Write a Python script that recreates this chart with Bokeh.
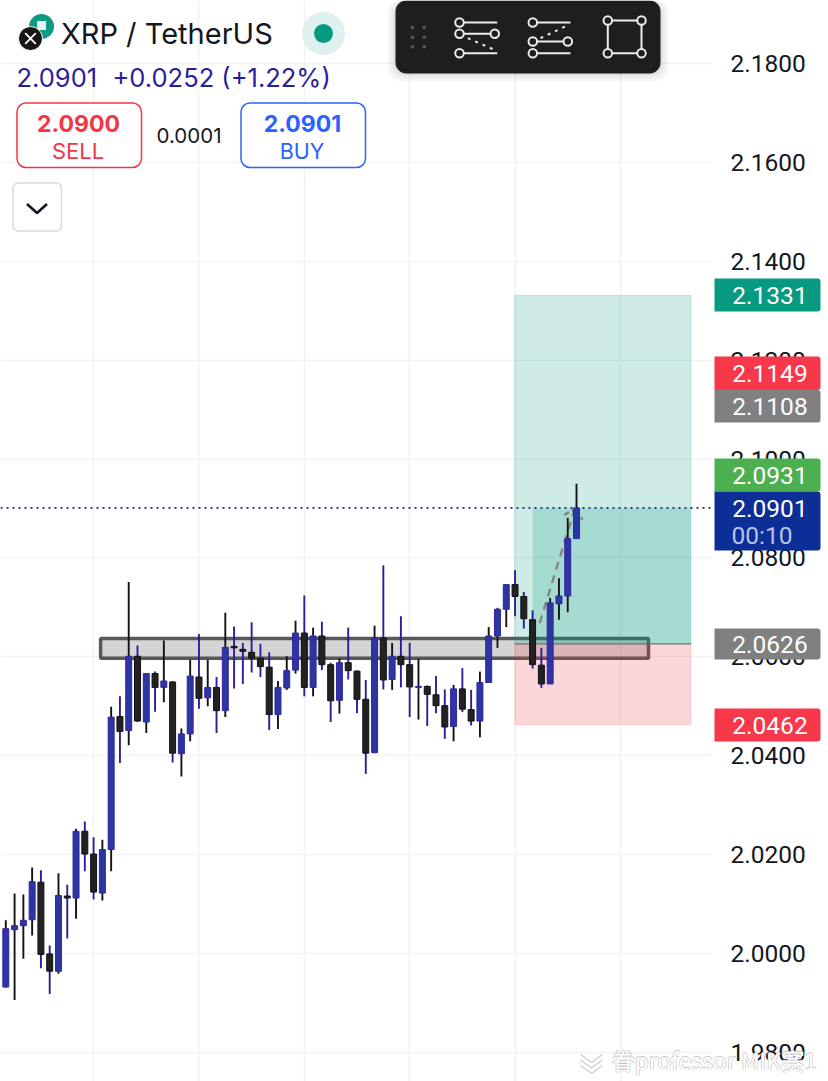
from bokeh.embed import file_html
from bokeh.resources import INLINE
from bokeh.plotting import figure
from bokeh.models import BoxAnnotation, Label, FixedTicker, NumeralTickFormatter, Range1d, Grid

# ---------- data ----------
open_ = [1.9932,2.0048,2.0056,2.0068,2.0144,1.9999,1.9964,2.0116,2.0112,2.0247,2.0201,2.0122,2.0210,2.0479,2.0451,2.0601,2.0468,2.0566,2.0538,2.0549,2.0404,2.0444,2.0559,2.0517,2.0538,2.0491,2.0621,2.0615,2.0609,2.0597,2.0579,2.0483,2.0537,2.0573,2.0648,2.0538,2.0642,2.0584,2.0512,2.0588,2.0571,2.0514,2.0406,2.0638,2.0554,2.0601,2.0584,2.0538,2.0540,2.0523,2.0501,2.0459,2.0535,2.0493,2.0470,2.0548,2.0642,2.0696,2.0746,2.0722,2.0675,2.0583,2.0545,2.0707,2.0723,2.0839]
high = [2.0067,2.0121,2.0119,2.0174,2.0168,2.0016,2.0162,2.0139,2.0252,2.0267,2.0235,2.0230,2.0499,2.0520,2.0751,2.0623,2.0567,2.0570,2.0633,2.0551,2.0455,2.0594,2.0646,2.0594,2.0559,2.0689,2.0661,2.0628,2.0670,2.0626,2.0609,2.0551,2.0601,2.0673,2.0724,2.0659,2.0671,2.0588,2.0597,2.0659,2.0572,2.0553,2.0663,2.0785,2.0628,2.0682,2.0628,2.0596,2.0542,2.0561,2.0534,2.0543,2.0577,2.0533,2.0570,2.0660,2.0699,2.0746,2.0775,2.0731,2.0694,2.0618,2.0719,2.0759,2.0881,2.0950]
low = [1.9931,1.9906,1.9989,2.0036,1.9970,1.9918,1.9959,2.0030,2.0070,2.0166,2.0109,2.0107,2.0166,2.0385,2.0421,2.0468,2.0446,2.0489,2.0508,2.0386,2.0358,2.0429,2.0495,2.0500,2.0446,2.0478,2.0536,2.0545,2.0568,2.0559,2.0452,2.0454,2.0533,2.0566,2.0520,2.0520,2.0573,2.0468,2.0485,2.0554,2.0486,2.0363,2.0405,2.0534,2.0533,2.0538,2.0478,2.0473,2.0460,2.0486,2.0434,2.0429,2.0488,2.0461,2.0437,2.0548,2.0618,2.0660,2.0682,2.0657,2.0576,2.0537,2.0545,2.0675,2.0690,2.0839]
close = [2.0050,2.0056,2.0067,2.0145,1.9998,1.9964,2.0117,2.0112,2.0247,2.0201,2.0124,2.0210,2.0478,2.0449,2.0601,2.0470,2.0566,2.0538,2.0551,2.0405,2.0444,2.0561,2.0516,2.0538,2.0491,2.0619,2.0618,2.0611,2.0597,2.0580,2.0483,2.0538,2.0572,2.0648,2.0538,2.0642,2.0584,2.0511,2.0588,2.0572,2.0514,2.0405,2.0638,2.0553,2.0601,2.0584,2.0539,2.0540,2.0524,2.0501,2.0458,2.0535,2.0494,2.0470,2.0548,2.0642,2.0696,2.0746,2.0722,2.0677,2.0584,2.0545,2.0709,2.0723,2.0839,2.0901]

price_ticks = [1.98,2.00,2.02,2.04,2.06,2.08,2.10,2.12,2.14,2.16,2.18]
bar_ticks = [10,22,34,46,58,70]

last_price = 2.0901
take_profit = 2.1331
entry = 2.0626
stop_loss = 2.0462
zone_top, zone_bottom = 2.0637, 2.0597
zone_start, zone_end = 10.8, 73.2
position_start, position_end, trade_start = 57.95, 78.05, 60.0
arrow_bars = [60.8, 64.8, 63.6, 64.8, 65.7]
arrow_prices = [2.0668, 2.0899, 2.0887, 2.0899, 2.0877]

# ---------- layout (reference pixels) ----------
W, H = 828, 1081
PLOT_RIGHT = 712
PX_PER_BAR = 8.78
X0 = 5.3
PX_PER_UNIT = 4944.0
Y0_PRICE = 2.19274

def X(px): return (px - X0) / PX_PER_BAR
def Y(py): return Y0_PRICE - py / PX_PER_UNIT

FONT = "Inter"
NUM_FONT = "Roboto"
BLUE_BODY, BLUE_EDGE, BLUE_WICK = "#2c36a0", "#3524a8", "#2a1e9c"
BLACK_BODY, BLACK_EDGE, BLACK_WICK = "#222222", "#111111", "#131313"
TEAL, RED, GRID = "#089981", "#f23645", "#f1f2f4"

p = figure(width=W, height=H, output_backend="svg", toolbar_location=None,
           x_range=Range1d(X(0), X(W)), y_range=Range1d(Y(H), Y(0)),
           x_axis_location=None, y_axis_location="right",
           min_border_left=0, min_border_top=0, min_border_bottom=0, min_border_right=0,
           margin=(0, 0, 0, 0), background_fill_color="white", border_fill_color="white")
p.outline_line_color = None

ax = p.yaxis[0]
ax.ticker = FixedTicker(ticks=price_ticks)
ax.formatter = NumeralTickFormatter(format="0.0000")
ax.axis_line_color = None
ax.major_tick_line_color = None
ax.minor_tick_line_color = None
ax.major_label_standoff = 724 - W      # labels sit inside the frame, as on the chart's price scale
ax.major_label_text_font = NUM_FONT
ax.major_label_text_font_size = "24.5px"
ax.major_label_text_color = "#131722"

p.ygrid.grid_line_color = GRID
p.ygrid.grid_line_width = 1.5
p.xgrid.grid_line_color = None
p.add_layout(Grid(dimension=0, ticker=FixedTicker(ticks=bar_ticks), grid_line_color=GRID, grid_line_width=1.5))

# price-scale strip keeps the grid out
p.quad(left=[X(PLOT_RIGHT)], right=[X(W)], top=[Y(0)], bottom=[Y(H)], fill_color="white", line_color=None)

# zone and trade boxes (under the candles)
p.quad(left=[zone_start], right=[zone_end], top=[zone_top], bottom=[zone_bottom],
       fill_color="#808080", fill_alpha=0.33, line_color="#585858", line_width=3.5)
p.quad(left=[position_start], right=[position_end], top=[take_profit], bottom=[entry],
       fill_color=TEAL, fill_alpha=0.2, line_color=TEAL, line_alpha=0.15, line_width=1)
p.quad(left=[position_start], right=[position_end], top=[entry], bottom=[stop_loss],
       fill_color=RED, fill_alpha=0.2, line_color=RED, line_alpha=0.12, line_width=1)
p.quad(left=[trade_start], right=[position_end], top=[last_price], bottom=[entry],
       fill_color=TEAL, fill_alpha=0.2, line_color=None)
p.line([position_start, position_end], [entry, entry], line_color="#666666", line_width=1.2, line_alpha=0.8)
p.line(arrow_bars, arrow_prices, line_color="#858585", line_width=2.4, line_dash="8 6")

# last price line
p.line([X(0), X(PLOT_RIGHT)], [last_price, last_price], line_color=BLUE_WICK, line_width=1.7, line_dash="2 4")

# candles
xs = list(range(len(close)))
up = [c >= o for o, c in zip(open_, close)]
p.segment(x0=xs, x1=xs, y0=high, y1=low, line_width=1.9,
          line_color=[BLACK_WICK if u else BLUE_WICK for u in up])
p.vbar(x=xs, width=0.68, top=[max(o, c) for o, c in zip(open_, close)],
       bottom=[min(o, c) for o, c in zip(open_, close)],
       fill_color=[BLUE_BODY if u else BLACK_BODY for u in up],
       line_color=[BLUE_EDGE if u else BLACK_EDGE for u in up], line_width=1)

# ---------- helpers for the page furniture ----------
def box(x0, y0, x1, y1, fill, line=None, lw=0, radius=0, alpha=1.0):
    p.add_layout(BoxAnnotation(left=X(x0), right=X(x1), top=Y(y0), bottom=Y(y1),
                               fill_color=fill, fill_alpha=alpha, line_color=line, line_alpha=1.0, line_width=lw,
                               border_radius=radius, level="annotation"))

def text(x, y, s, size, color, align="center", style="normal", font=FONT):
    p.add_layout(Label(x=X(x), y=Y(y), text=s, text_font=font, text_font_size=f"{size}px", text_color=color,
                       text_align=align, text_baseline="middle", text_font_style=style, level="overlay"))

# price tags on the right
tags = [(278, 311, TEAL, "2.1331"), (356, 389.5, "#f7374a", "2.1149"), (389.5, 422, "#808080", "2.1108"),
        (458, 491, "#4caf50", "2.0931"), (628, 659, "#808080", "2.0626"), (708, 741, "#f7374a", "2.0462")]
for y0, y1, c, s in tags:
    box(714, y0, 820, y1, c, radius=(0, 3, 3, 0))
    text(769.5, (y0 + y1) / 2 + 0.5, s, 24.5, "white", font=NUM_FONT)
box(714, 491, 820, 550, "#0c2e96", radius=(0, 3, 3, 0))
text(769.5, 508, "2.0901", 24.5, "white", font=NUM_FONT)
text(731, 535, "00:10", 24.5, "#b9c3e3", align="left", font=NUM_FONT)

# header
p.scatter([X(41)], [Y(26)], size=25, marker="circle", fill_color="#0d9a85", line_color=None)
p.scatter([X(41)], [Y(25)], size=9, marker="square", fill_color="#e6f5f2", line_color=None)
p.scatter([X(30)], [Y(38)], size=24, marker="circle", fill_color="#161616", line_color="white", line_width=1)
p.scatter([X(30)], [Y(38)], size=15, marker="x", fill_color=None, line_color="white", line_width=1.8)
text(60.5, 33, "XRP / TetherUS", 29, "#131722", align="left")
text(16, 77, "2.0901", 25.5, "#2a1e9c", align="left")
text(112, 77, "+0.0252 (+1.22%)", 25.5, "#2a1e9c", align="left")
p.scatter([X(323)], [Y(33)], size=43, marker="circle", fill_color="#dff1ef", line_color=None)
p.scatter([X(323)], [Y(33)], size=19, marker="circle", fill_color=TEAL, line_color=None)

box(16.5, 102.5, 141, 167, "white", "#f23645", 1.5, 9)
box(240.5, 102.5, 365, 167, "white", "#2962ff", 1.5, 9)
text(78, 122.5, "2.0900", 23, "#f23645", style="bold")
text(77.5, 150.5, "SELL", 22, "#f23645")
text(302, 122.5, "2.0901", 23, "#2962ff", style="bold")
text(301.5, 150.5, "BUY", 21.5, "#2962ff")
text(188.5, 135, "0.0001", 20.5, "#131722")

box(12.5, 182.5, 61, 230.5, "white", "#dadada", 1.5, 5)
p.line([X(26.5), X(36.5), X(46.5)], [Y(203.5), Y(212.5), Y(203.5)], line_color="#131722", line_width=2.6, level="overlay")

# floating tool bar
for g, a in ((8, 0.03), (5, 0.04), (2, 0.06)):
    box(395 - g, 0, 660 + g, 73 + g, "black", radius=12, alpha=a)
box(395, 0, 660, 73, "#1e1e1e", radius=11)
ICON = "#ececec"
for dx in (412, 423.7):
    for dy in (27, 36.7, 46.3):
        p.scatter([X(dx)], [Y(dy)], size=3.6, marker="circle", fill_color="#5a5a5a", line_color=None, level="overlay")

def tool_line(x0, y0, x1, y1, dash="solid"):
    p.line([X(x0), X(x1)], [Y(y0), Y(y1)], line_color=ICON, line_width=2, line_dash=dash, level="overlay")

def knob(x, y):
    p.scatter([X(x)], [Y(y)], size=8.5, marker="circle", fill_color="#1e1e1e", line_color=ICON, line_width=2, level="overlay")

for y, xe in ((22, 496.7), (52.7, 496.7)):
    tool_line(459, y, xe, y); knob(459, y)
tool_line(459, 33.3, 494.3, 33.3); knob(459, 33.3); knob(494.3, 33.3)
tool_line(467.3, 37.7, 494, 49.3, "3 5")
for y in (22, 52.7):
    tool_line(532.3, y, 570, y); knob(532.3, y)
tool_line(532.3, 41, 567.3, 41); knob(532.3, 41); knob(567.3, 41)
tool_line(540, 37.7, 566.7, 25, "3 5")
sq = [(607.3, 20), (641, 20), (641, 52.7), (607.3, 52.7), (607.3, 20)]
p.line([X(a) for a, _ in sq], [Y(b) for _, b in sq], line_color=ICON, line_width=2, level="overlay")
for a, b in sq[:4]:
    knob(a, b)

# watermark
WM = "眷professor MIK赛1"
WM_FONT = "Noto Sans CJK SC"
for ox, oy in ((-0.7, 0), (0.7, 0), (0, -0.7), (0, 0.7)):
    text(611 + ox, 1059 + oy, WM, 23, "#c8c8c8", align="left", font=WM_FONT)
text(611, 1059, WM, 23, "#ffffff", align="left", font=WM_FONT)
for dy in (0, 5.5, 11):
    p.line([X(580), X(591), X(602)], [Y(1054 + dy), Y(1062 + dy), Y(1054 + dy)], line_color="#cfcfcf", line_width=1.4, level="overlay")

open("out.html", "w").write(file_html(p, INLINE))
